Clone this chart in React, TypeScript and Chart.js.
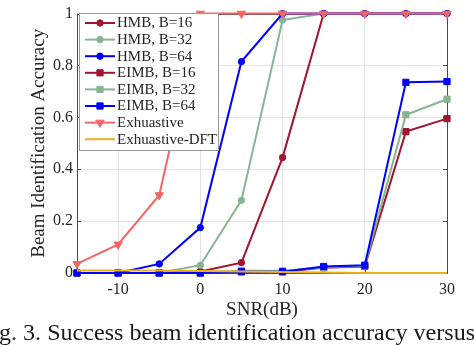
import React, { useEffect, useRef } from "react";
import { Chart, registerables } from "chart.js";

Chart.register(...registerables);

// ---- data ----
const snr = [-15, -10, -5, 0, 5, 10, 15, 20, 25, 30];
const hmb16 = [0, 0, 0, 0.006, 0.04, 0.445, 1, 1, 1, 1];
const hmb32 = [0, 0, 0, 0.03, 0.28, 0.975, 1, 1, 1, 1];
const hmb64 = [0, 0, 0.035, 0.175, 0.815, 1, 1, 1, 1, 1];
const eimb16 = [0, 0, 0, 0, 0.005, 0.005, 0.02, 0.025, 0.545, 0.595];
const eimb32 = [0, 0, 0, 0, 0.01, 0.008, 0.022, 0.028, 0.61, 0.67];
const eimb64 = [0, 0, 0, 0, 0.005, 0.005, 0.025, 0.03, 0.735, 0.738];
const exhaustive = [0.035, 0.11, 0.3, 1, 1, 1, 1, 1, 1, 1];
const exhaustiveDft = [0.01, 0.01, 0.01, 0.008, 0.006, 0.004, 0.002, 0, 0, 0];

const xTicks = [-15, -10, 0, 10, 20, 30];
const xTickLabels = ["", "-10", "0", "10", "20", "30"];
const yTicks = [0, 0.2, 0.4, 0.6, 0.8, 1];
const yTickLabels = ["0", "0.2", "0.4", "0.6", "0.8", "1"];

const seriesLabels = [
  "HMB, B=16",
  "HMB, B=32",
  "HMB, B=64",
  "EIMB, B=16",
  "EIMB, B=32",
  "EIMB, B=64",
  "Exhuastive",
  "Exhuastive-DFT",
];
const xTitle = "SNR(dB)";
const yTitle = "Beam Identification Accuracy";
const caption = "g. 3. Success beam identification accuracy versus";

// ---- styles ----
const MAROON = "#A2142F";
const SAGE = "#87B592";
const BLUE = "#0000FF";
const SALMON = "#F46666";
const ORANGE = "#EDB120";
const FONT = "'Liberation Serif', 'Times New Roman', serif";
const TEXT = "#262626";

const seriesValues = [hmb16, hmb32, hmb64, eimb16, eimb32, eimb64, exhaustive, exhaustiveDft];
const seriesColors = [MAROON, SAGE, BLUE, MAROON, SAGE, BLUE, SALMON, ORANGE];
const seriesMarkers = ["circle", "circle", "circle", "rect", "rect", "rect", "triangle", false];
const markerRadius = [3.2, 3.2, 3.2, 4.4, 4.4, 4.4, 4.8, 0];
const markerRotation = [0, 0, 0, 0, 0, 0, 180, 0];

const framePlugin = {
  id: "frame",
  beforeDatasetsDraw(chart: any) {
    const { ctx, chartArea: a, scales } = chart;
    ctx.save();
    ctx.strokeStyle = "#4a4a4a";
    ctx.lineWidth = 1;
    const tl = 4;
    ctx.beginPath();
    xTicks.forEach((v) => {
      const px = Math.round(scales.x.getPixelForValue(v)) + 0.5;
      ctx.moveTo(px, a.bottom);
      ctx.lineTo(px, a.bottom - tl);
      ctx.moveTo(px, a.top);
      ctx.lineTo(px, a.top + tl);
    });
    yTicks.forEach((v) => {
      const py = Math.round(scales.y.getPixelForValue(v)) + 0.5;
      ctx.moveTo(a.left, py);
      ctx.lineTo(a.left + tl, py);
      ctx.moveTo(a.right, py);
      ctx.lineTo(a.right - tl, py);
    });
    ctx.stroke();
    ctx.strokeRect(Math.round(a.left) + 0.5, Math.round(a.top) + 0.5, Math.round(a.right - a.left), Math.round(a.bottom - a.top));
    ctx.restore();
  },
};

function drawMarker(ctx: CanvasRenderingContext2D, style: any, x: number, y: number, r: number, rot: number, color: string) {
  if (!style) return;
  Chart.helpers?.drawPoint
    ? (Chart as any).helpers.drawPoint(ctx, { pointStyle: style, radius: r, rotation: rot, borderWidth: 1 }, x, y)
    : null;
}

const legendPlugin = {
  id: "customLegend",
  afterDatasetsDraw(chart: any) {
    const { ctx } = chart;
    const bx = 79.5, by = 13.5, bw = 139, bh = 137;
    ctx.save();
    ctx.fillStyle = "#ffffff";
    ctx.fillRect(bx, by, bw, bh);
    ctx.strokeStyle = "#9a9a9a";
    ctx.lineWidth = 1;
    ctx.strokeRect(bx, by, bw, bh);
    ctx.font = `15px ${FONT}`;
    ctx.textBaseline = "middle";
    ctx.textAlign = "left";
    seriesLabels.forEach((lab, i) => {
      const y = 23 + i * 16.6;
      const c = seriesColors[i];
      ctx.strokeStyle = c;
      ctx.lineWidth = 2;
      ctx.beginPath();
      ctx.moveTo(85, y);
      ctx.lineTo(115, y);
      ctx.stroke();
      const st = seriesMarkers[i];
      if (st) {
        ctx.fillStyle = c;
        ctx.strokeStyle = c;
        ctx.lineWidth = 1;
        const r = markerRadius[i];
        const rot = markerRotation[i];
        ctx.beginPath();
        if (st === "circle") {
          ctx.arc(100, y, r, 0, Math.PI * 2);
        } else if (st === "rect") {
          const s = r / Math.SQRT2;
          ctx.rect(100 - s, y - s, 2 * s, 2 * s);
        } else if (st === "triangle") {
          const rad = (rot * Math.PI) / 180 - Math.PI / 2;
          for (let k = 0; k < 3; k++) {
            const ang = rad + (k * 2 * Math.PI) / 3;
            const px = 100 + Math.cos(ang) * r;
            const py = y + Math.sin(ang) * r;
            if (k === 0) ctx.moveTo(px, py);
            else ctx.lineTo(px, py);
          }
          ctx.closePath();
        }
        ctx.fill();
        ctx.stroke();
      }
      ctx.fillStyle = TEXT;
      ctx.fillText(lab, 117, y + 0.5);
    });
    ctx.restore();
  },
  afterDraw(chart: any) {
    const { ctx } = chart;
    ctx.save();
    ctx.font = `20px ${FONT}`;
    const w = ctx.measureText(caption).width;
    const size = (20 * 476) / w;
    ctx.font = `${size.toFixed(2)}px ${FONT}`;
    ctx.fillStyle = "#1a1a1a";
    ctx.textBaseline = "alphabetic";
    ctx.textAlign = "left";
    ctx.fillText(caption, -1, 340);
    ctx.restore();
  },
};

export default function App() {
  const ref = useRef<HTMLCanvasElement | null>(null);

  useEffect(() => {
    if (!ref.current) return;
    const datasets = seriesValues.map((vals, i) => ({
      label: seriesLabels[i],
      data: vals.map((v, k) => ({ x: snr[k], y: v })),
      borderColor: seriesColors[i],
      backgroundColor: seriesColors[i],
      borderWidth: 2,
      pointStyle: seriesMarkers[i] as any,
      pointRadius: markerRadius[i],
      pointRotation: markerRotation[i],
      pointBorderWidth: 1,
      pointHoverRadius: markerRadius[i],
      tension: 0,
      clip: false as any,
      order: seriesValues.length - i,
    }));

    const chart = new Chart(ref.current, {
      type: "line",
      data: { datasets },
      plugins: [framePlugin, legendPlugin],
      options: {
        animation: false,
        responsive: false,
        maintainAspectRatio: false,
        layout: { padding: { top: 7, right: 27, bottom: 24, left: 0 } },
        plugins: { legend: { display: false }, tooltip: { enabled: false } },
        scales: {
          x: {
            type: "linear",
            min: -15,
            max: 30,
            afterBuildTicks: (s: any) => {
              s.ticks = xTicks.map((v) => ({ value: v }));
            },
            afterFit: (s: any) => {
              s.height = 48;
            },
            ticks: {
              autoSkip: false,
              maxRotation: 0,
              padding: 7,
              color: TEXT,
              font: { family: FONT, size: 16 },
              callback: (v: any) => {
                const idx = xTicks.indexOf(Number(v));
                return idx >= 0 ? xTickLabels[idx] : "";
              },
            },
            grid: { color: "#e4e4e4", lineWidth: 1, drawTicks: false },
            border: { display: false },
            title: {
              display: true,
              text: xTitle,
              color: TEXT,
              font: { family: FONT, size: 19 },
              padding: { top: 0, bottom: 0 },
            },
          },
          y: {
            type: "linear",
            min: 0,
            max: 1,
            afterBuildTicks: (s: any) => {
              s.ticks = yTicks.map((v) => ({ value: v }));
            },
            afterFit: (s: any) => {
              s.width = 77;
            },
            ticks: {
              autoSkip: false,
              padding: 4,
              color: TEXT,
              font: { family: FONT, size: 16 },
              callback: (v: any) => {
                const idx = yTicks.findIndex((t) => Math.abs(t - Number(v)) < 1e-9);
                return idx >= 0 ? yTickLabels[idx] : "";
              },
            },
            grid: { color: "#e4e4e4", lineWidth: 1, drawTicks: false },
            border: { display: false },
            title: {
              display: true,
              text: yTitle,
              color: TEXT,
              font: { family: FONT, size: 19 },
              padding: { top: 27.6, bottom: 27.6 },
            },
          },
        },
      },
    });
    return () => chart.destroy();
  }, []);

  return (
    <div style={{ position: "fixed", left: 0, top: 0, width: 474, height: 345, background: "#fff" }}>
      <canvas ref={ref} width={474} height={345} style={{ width: 474, height: 345 }} />
    </div>
  );
}
